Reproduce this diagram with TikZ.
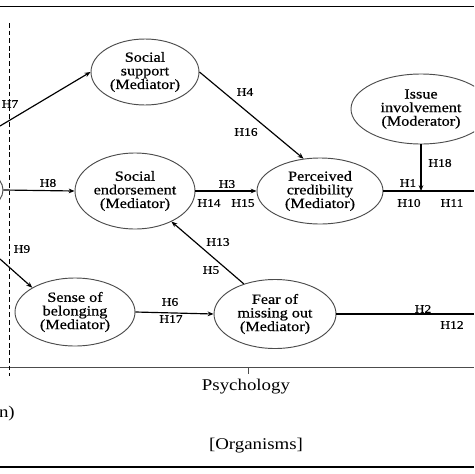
\documentclass[tikz,border=0pt]{standalone}
\usepackage{fontspec}
\setmainfont{Liberation Serif}
\newfontfamily\widefont[FakeStretch=1.15]{Liberation Serif}
\newfontfamily\heavyfont[FakeStretch=1.15,FakeBold=0.6]{Liberation Serif}
\usetikzlibrary{arrows.meta,positioning,shapes.geometric}

\begin{document}
\begin{tikzpicture}[
    x=0.03cm, y=-0.03cm,
    construct/.style={draw=black!70, line width=0.8pt, ellipse, inner sep=0pt, align=center, font=\heavyfont\fontsize{12}{11.6}\selectfont},
    hyp/.style={inner sep=0pt, font=\heavyfont\fontsize{10}{10}\selectfont},
    big/.style={inner sep=0pt, font=\widefont\fontsize{14}{16}\selectfont},
    link/.style={line width=1pt, -{Stealth[length=5pt,width=4pt]}},
    plain/.style={line width=1pt}
]
    \useasboundingbox (0,0) rectangle (474,474);
    \clip (0,0) rectangle (474,474);

    % frame
    \draw[line width=1.7pt] (0,6.5) -- (474,6.5);
    \draw[line width=1.2pt] (0,467) -- (474,467);
    \draw[black!70, line width=0.8pt] (0,367) -- (474,367);
    \draw[black!70, line width=0.8pt] (248,367) -- (248,374);
    \draw[dashed, line width=0.8pt, dash pattern=on 4pt off 2.5pt] (9,23) -- (9,376);

    % constructs
    \node[construct, minimum width=2.58cm, minimum height=1.5cm] (stim) at (-40,190) {};
    \node[construct, minimum width=3.24cm, minimum height=1.98cm] (sup) at (145,72) {Social\\support\\(Mediator)};
    \node[construct, minimum width=3.6cm, minimum height=2.28cm] (endo) at (135,191) {Social\\endorsement\\(Mediator)};
    \node[construct, minimum width=3.78cm, minimum height=1.98cm] (cred) at (320,191) {Perceived\\credibility\\(Mediator)};
    \node[construct, minimum width=4.2cm, minimum height=2.1cm] (issue) at (421,109) {Issue\\involvement\\(Moderator)};
    \node[construct, minimum width=3.6cm, minimum height=2.04cm] (bel) at (75,312) {Sense of\\belonging\\(Mediator)};
    \node[construct, minimum width=3.66cm, minimum height=2.07cm] (fomo) at (275,314) {Fear of\\missing out\\(Mediator)};

    \coordinate (in7) at (0,126);
    \coordinate (in9) at (0,259);
    \coordinate (outc) at (474,191);
    \coordinate (outf) at (474,314);

    % paths
    \draw[link] (in7) -- (sup.west);
    \draw[link] (stim.east) -- (endo.west);
    \draw[link] (in9) -- (bel.north west);
    \draw[link] (sup.east) -- (cred.117);
    \draw[link] (endo.east) -- (cred.west);
    \draw[link] (fomo.136) -- (endo.-40);
    \draw[link] (bel.east) -- (fomo.west);
    \draw[plain] (cred.east) -- (outc);
    \draw[link] (issue.south) -- (issue.south |- cred.east);
    \draw[plain] (fomo.east) -- (outf);

    % hypotheses
    \node[hyp] (h7) at (10,104) {H7};
    \node[hyp] (h8) at (48,183) {H8};
    \node[hyp] (h9) at (22,249) {H9};
    \node[hyp] (h4) at (245,92) {H4};
    \node[hyp] (h16) at (246,132) {H16};
    \node[hyp] (h3) at (227,184) {H3};
    \node[hyp] (h14) at (209,203) {H14};
    \node[hyp] (h15) at (243,203) {H15};
    \node[hyp] (h13) at (218,242) {H13};
    \node[hyp] (h5) at (211,270) {H5};
    \node[hyp] (h6) at (170,302) {H6};
    \node[hyp] (h17) at (171,319) {H17};
    \node[hyp] (h1) at (408,183) {H1};
    \node[hyp] (h10) at (409,203) {H10};
    \node[hyp] (h11) at (452,203) {H11};
    \node[hyp] (h18) at (440,163) {H18};
    \node[hyp] (h2) at (423,309) {H2};
    \node[hyp] (h12) at (452,325) {H12};

    % captions
    \node[big] (psy) at (246,387) {Psychology};
    \node[big, anchor=east] (cut) at (15,414) {n)};
    \node[big] (org) at (256,446) {[Organisms]};
\end{tikzpicture}
\end{document}
